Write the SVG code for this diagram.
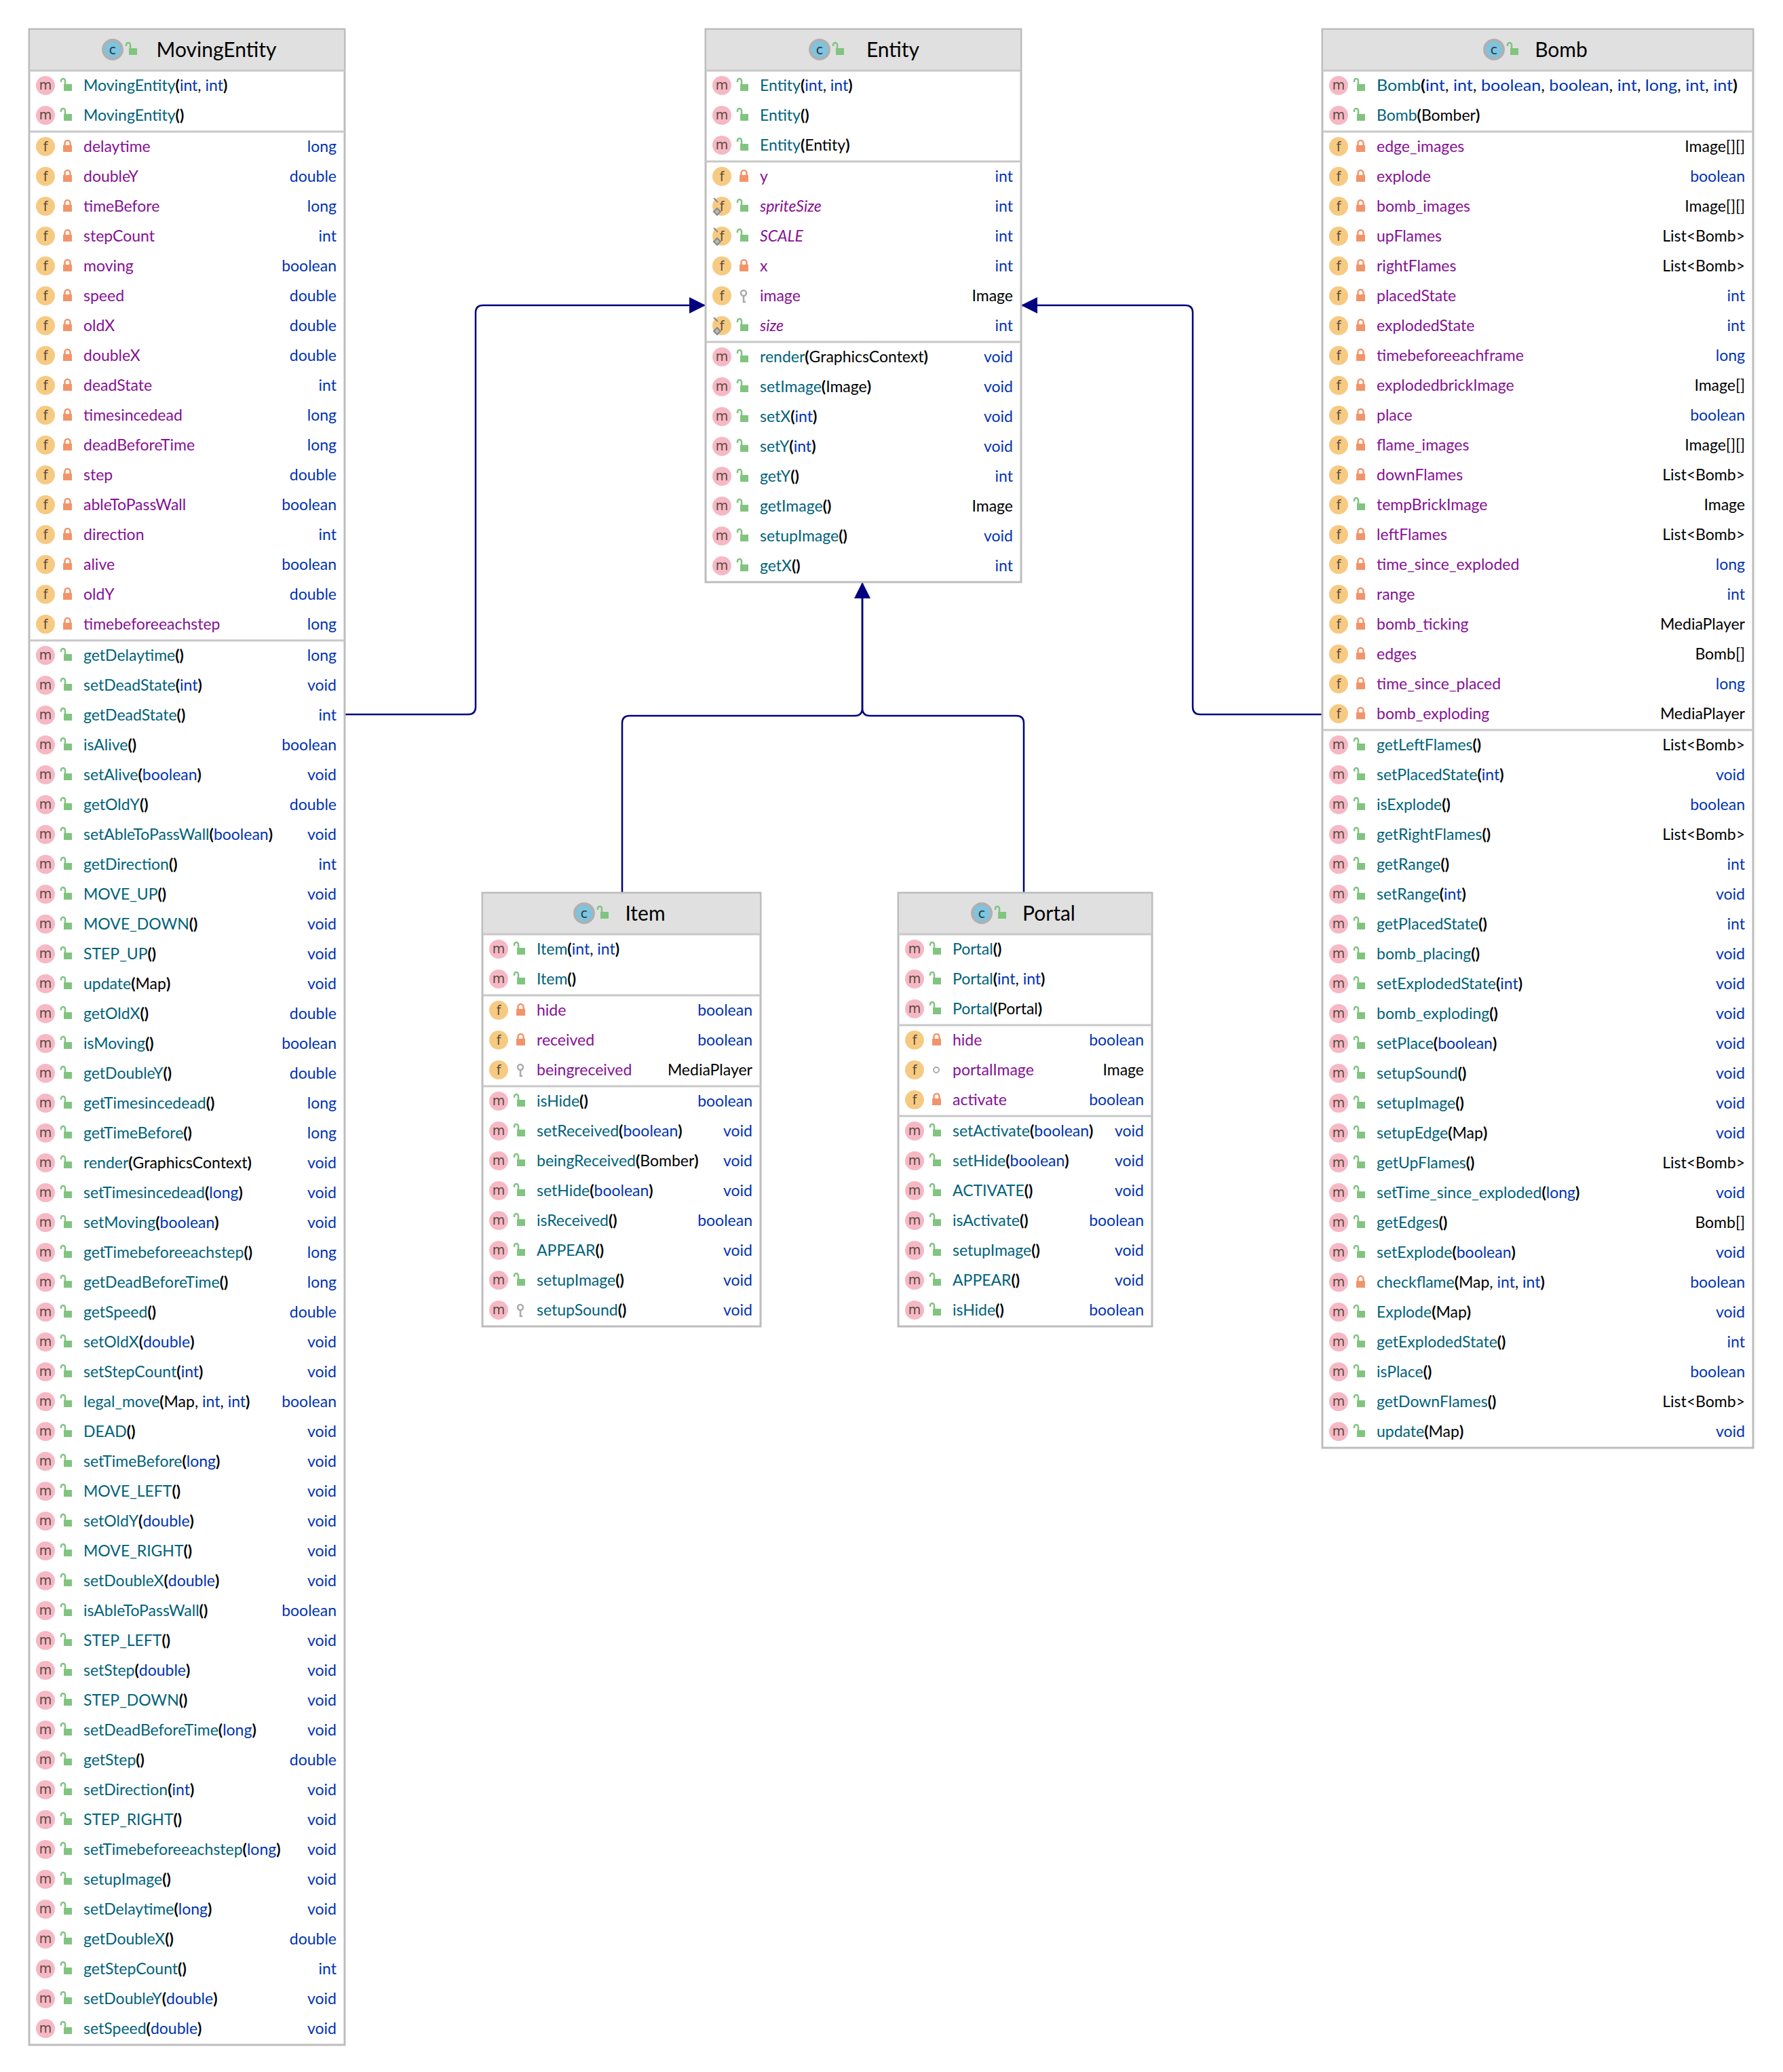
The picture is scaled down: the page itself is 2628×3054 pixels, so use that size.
<svg xmlns="http://www.w3.org/2000/svg" xmlns:xlink="http://www.w3.org/1999/xlink" width="2628" height="3054" viewBox="0 0 2628 3054">
<style>
.t{font-family:Lato,"Liberation Sans",sans-serif;font-size:23px;fill:#000}
.h{font-family:Lato,"Liberation Sans",sans-serif;font-size:30px;fill:#000;text-anchor:middle}
.ic{font-family:"DejaVu Sans",sans-serif;font-size:19px;fill:#5a4a40;text-anchor:middle}
.n{fill:#00627a}.f{fill:#871094}.k{fill:#0033b3}.p{font-weight:bold}.r{text-anchor:end}.i{font-style:italic}
.box{fill:#fff;stroke:#bdbdbd;stroke-width:3}
.hd{fill:#e0e0e0}
.sep{stroke:#c8c8c8;stroke-width:3}
.con{fill:none;stroke:#000080;stroke-width:2.5}
</style>
<defs>
<marker id="ar" markerUnits="userSpaceOnUse" markerWidth="28" markerHeight="28" refX="24" refY="12" orient="auto"><path d="M0,0 L24,12 L0,24 z" fill="#000080"/></marker>
<g id="cm"><circle r="14" fill="#f6b8c5"/><text y="6" class="ic">m</text></g>
<g id="cf"><circle r="14" fill="#f7ca82"/><text y="7" class="ic">f</text></g>
<g id="gp"><rect x="-5" y="-2" width="12" height="10" fill="#80c480"/><path d="M-3,-2 v-5 a3,3 0 0 0 -6,0 v2" fill="none" stroke="#80c480" stroke-width="2.5"/></g>
<g id="gr"><rect x="-6" y="-2" width="13" height="10" fill="#f2946a"/><path d="M-3.5,-2 v-3 a4,4 0 0 1 8,0 v3" fill="none" stroke="#f2946a" stroke-width="2.5"/></g>
<g id="gk"><circle cy="-4" r="4" fill="none" stroke="#aaa" stroke-width="2.5"/><path d="M0,0 v9 h3" fill="none" stroke="#aaa" stroke-width="2.5"/></g>
<g id="go"><circle r="4" fill="none" stroke="#aaa" stroke-width="2"/></g>
<g id="mp"><use href="#cm" x="24"/><use href="#gp" x="56"/></g>
<g id="mr"><use href="#cm" x="24"/><use href="#gr" x="56"/></g>
<g id="mk"><use href="#cm" x="24"/><use href="#gk" x="56"/></g>
<g id="fp"><use href="#cf" x="24"/><use href="#gp" x="56"/></g>
<g id="fr"><use href="#cf" x="24"/><use href="#gr" x="56"/></g>
<g id="fk"><use href="#cf" x="24"/><use href="#gk" x="56"/></g>
<g id="fo"><use href="#cf" x="24"/><use href="#go" x="56"/></g>
<g id="fs"><use href="#cf" x="24"/><path d="M12,-12 l6,6 M12,8 l5,-5 l5,5 l-5,5z" stroke="#888" stroke-width="2" fill="#bbb"/><use href="#gp" x="56"/></g>
<g id="cls"><circle r="16" fill="#b0b0b0"/><circle r="12" fill="#7cc4df"/><text y="7" class="ic" style="fill:#333">c</text></g>
</defs>
<rect width="2628" height="3054" fill="#fff"/>

<g id="connectors">
<path class="con" d="M508,1053 H690 Q701,1053 701,1042 V461 Q701,450 712,450 H1040" marker-end="url(#ar)"/>
<path class="con" d="M1949,1053 H1769 Q1758,1053 1758,1042 V461 Q1758,450 1747,450 H1505" marker-end="url(#ar)"/>
<path class="con" d="M917,1316 V1066 Q917,1055 928,1055 H1260 Q1271,1055 1271,1044 V858" marker-end="url(#ar)"/>
<path class="con" d="M1509,1316 V1066 Q1509,1055 1498,1055 H1282 Q1271,1055 1271,1044 V870"/>
</g>

<g id="MovingEntity" transform="translate(43,43)">
<rect class="box" width="465" height="2971"/>
<rect class="hd" x="1.5" y="1.5" width="462" height="59"/>
<line class="sep" x1="0" y1="61" x2="465" y2="61"/>
<use href="#cls" x="123" y="30"/><use href="#gp" x="152" y="30"/>
<text class="h" x="276" y="41">MovingEntity</text>
<line class="sep" x1="0" y1="151" x2="465" y2="151"/>
<line class="sep" x1="0" y1="901" x2="465" y2="901"/>
</g>
<g transform="translate(43,0)">
<g transform="translate(0,126)"><use href="#mp"/><text class="t" x="80" y="8"><tspan class="n">MovingEntity</tspan><tspan class="p">(</tspan><tspan class="k">int</tspan>, <tspan class="k">int</tspan><tspan class="p">)</tspan></text></g>
<g transform="translate(0,170)"><use href="#mp"/><text class="t" x="80" y="8"><tspan class="n">MovingEntity</tspan><tspan class="p">()</tspan></text></g>
<g transform="translate(0,216)"><use href="#fr"/><text class="t f" x="80" y="8">delaytime</text><text class="t r k" x="453" y="8">long</text></g>
<g transform="translate(0,260)"><use href="#fr"/><text class="t f" x="80" y="8">doubleY</text><text class="t r k" x="453" y="8">double</text></g>
<g transform="translate(0,304)"><use href="#fr"/><text class="t f" x="80" y="8">timeBefore</text><text class="t r k" x="453" y="8">long</text></g>
<g transform="translate(0,348)"><use href="#fr"/><text class="t f" x="80" y="8">stepCount</text><text class="t r k" x="453" y="8">int</text></g>
<g transform="translate(0,392)"><use href="#fr"/><text class="t f" x="80" y="8">moving</text><text class="t r k" x="453" y="8">boolean</text></g>
<g transform="translate(0,436)"><use href="#fr"/><text class="t f" x="80" y="8">speed</text><text class="t r k" x="453" y="8">double</text></g>
<g transform="translate(0,480)"><use href="#fr"/><text class="t f" x="80" y="8">oldX</text><text class="t r k" x="453" y="8">double</text></g>
<g transform="translate(0,524)"><use href="#fr"/><text class="t f" x="80" y="8">doubleX</text><text class="t r k" x="453" y="8">double</text></g>
<g transform="translate(0,568)"><use href="#fr"/><text class="t f" x="80" y="8">deadState</text><text class="t r k" x="453" y="8">int</text></g>
<g transform="translate(0,612)"><use href="#fr"/><text class="t f" x="80" y="8">timesincedead</text><text class="t r k" x="453" y="8">long</text></g>
<g transform="translate(0,656)"><use href="#fr"/><text class="t f" x="80" y="8">deadBeforeTime</text><text class="t r k" x="453" y="8">long</text></g>
<g transform="translate(0,700)"><use href="#fr"/><text class="t f" x="80" y="8">step</text><text class="t r k" x="453" y="8">double</text></g>
<g transform="translate(0,744)"><use href="#fr"/><text class="t f" x="80" y="8">ableToPassWall</text><text class="t r k" x="453" y="8">boolean</text></g>
<g transform="translate(0,788)"><use href="#fr"/><text class="t f" x="80" y="8">direction</text><text class="t r k" x="453" y="8">int</text></g>
<g transform="translate(0,832)"><use href="#fr"/><text class="t f" x="80" y="8">alive</text><text class="t r k" x="453" y="8">boolean</text></g>
<g transform="translate(0,876)"><use href="#fr"/><text class="t f" x="80" y="8">oldY</text><text class="t r k" x="453" y="8">double</text></g>
<g transform="translate(0,920)"><use href="#fr"/><text class="t f" x="80" y="8">timebeforeeachstep</text><text class="t r k" x="453" y="8">long</text></g>
<g transform="translate(0,966)"><use href="#mp"/><text class="t" x="80" y="8"><tspan class="n">getDelaytime</tspan><tspan class="p">()</tspan></text><text class="t r k" x="453" y="8">long</text></g>
<g transform="translate(0,1010)"><use href="#mp"/><text class="t" x="80" y="8"><tspan class="n">setDeadState</tspan><tspan class="p">(</tspan><tspan class="k">int</tspan><tspan class="p">)</tspan></text><text class="t r k" x="453" y="8">void</text></g>
<g transform="translate(0,1054)"><use href="#mp"/><text class="t" x="80" y="8"><tspan class="n">getDeadState</tspan><tspan class="p">()</tspan></text><text class="t r k" x="453" y="8">int</text></g>
<g transform="translate(0,1098)"><use href="#mp"/><text class="t" x="80" y="8"><tspan class="n">isAlive</tspan><tspan class="p">()</tspan></text><text class="t r k" x="453" y="8">boolean</text></g>
<g transform="translate(0,1142)"><use href="#mp"/><text class="t" x="80" y="8"><tspan class="n">setAlive</tspan><tspan class="p">(</tspan><tspan class="k">boolean</tspan><tspan class="p">)</tspan></text><text class="t r k" x="453" y="8">void</text></g>
<g transform="translate(0,1186)"><use href="#mp"/><text class="t" x="80" y="8"><tspan class="n">getOldY</tspan><tspan class="p">()</tspan></text><text class="t r k" x="453" y="8">double</text></g>
<g transform="translate(0,1230)"><use href="#mp"/><text class="t" x="80" y="8"><tspan class="n">setAbleToPassWall</tspan><tspan class="p">(</tspan><tspan class="k">boolean</tspan><tspan class="p">)</tspan></text><text class="t r k" x="453" y="8">void</text></g>
<g transform="translate(0,1274)"><use href="#mp"/><text class="t" x="80" y="8"><tspan class="n">getDirection</tspan><tspan class="p">()</tspan></text><text class="t r k" x="453" y="8">int</text></g>
<g transform="translate(0,1318)"><use href="#mp"/><text class="t" x="80" y="8"><tspan class="n">MOVE_UP</tspan><tspan class="p">()</tspan></text><text class="t r k" x="453" y="8">void</text></g>
<g transform="translate(0,1362)"><use href="#mp"/><text class="t" x="80" y="8"><tspan class="n">MOVE_DOWN</tspan><tspan class="p">()</tspan></text><text class="t r k" x="453" y="8">void</text></g>
<g transform="translate(0,1406)"><use href="#mp"/><text class="t" x="80" y="8"><tspan class="n">STEP_UP</tspan><tspan class="p">()</tspan></text><text class="t r k" x="453" y="8">void</text></g>
<g transform="translate(0,1450)"><use href="#mp"/><text class="t" x="80" y="8"><tspan class="n">update</tspan><tspan class="p">(</tspan>Map<tspan class="p">)</tspan></text><text class="t r k" x="453" y="8">void</text></g>
<g transform="translate(0,1494)"><use href="#mp"/><text class="t" x="80" y="8"><tspan class="n">getOldX</tspan><tspan class="p">()</tspan></text><text class="t r k" x="453" y="8">double</text></g>
<g transform="translate(0,1538)"><use href="#mp"/><text class="t" x="80" y="8"><tspan class="n">isMoving</tspan><tspan class="p">()</tspan></text><text class="t r k" x="453" y="8">boolean</text></g>
<g transform="translate(0,1582)"><use href="#mp"/><text class="t" x="80" y="8"><tspan class="n">getDoubleY</tspan><tspan class="p">()</tspan></text><text class="t r k" x="453" y="8">double</text></g>
<g transform="translate(0,1626)"><use href="#mp"/><text class="t" x="80" y="8"><tspan class="n">getTimesincedead</tspan><tspan class="p">()</tspan></text><text class="t r k" x="453" y="8">long</text></g>
<g transform="translate(0,1670)"><use href="#mp"/><text class="t" x="80" y="8"><tspan class="n">getTimeBefore</tspan><tspan class="p">()</tspan></text><text class="t r k" x="453" y="8">long</text></g>
<g transform="translate(0,1714)"><use href="#mp"/><text class="t" x="80" y="8"><tspan class="n">render</tspan><tspan class="p">(</tspan>GraphicsContext<tspan class="p">)</tspan></text><text class="t r k" x="453" y="8">void</text></g>
<g transform="translate(0,1758)"><use href="#mp"/><text class="t" x="80" y="8"><tspan class="n">setTimesincedead</tspan><tspan class="p">(</tspan><tspan class="k">long</tspan><tspan class="p">)</tspan></text><text class="t r k" x="453" y="8">void</text></g>
<g transform="translate(0,1802)"><use href="#mp"/><text class="t" x="80" y="8"><tspan class="n">setMoving</tspan><tspan class="p">(</tspan><tspan class="k">boolean</tspan><tspan class="p">)</tspan></text><text class="t r k" x="453" y="8">void</text></g>
<g transform="translate(0,1846)"><use href="#mp"/><text class="t" x="80" y="8"><tspan class="n">getTimebeforeeachstep</tspan><tspan class="p">()</tspan></text><text class="t r k" x="453" y="8">long</text></g>
<g transform="translate(0,1890)"><use href="#mp"/><text class="t" x="80" y="8"><tspan class="n">getDeadBeforeTime</tspan><tspan class="p">()</tspan></text><text class="t r k" x="453" y="8">long</text></g>
<g transform="translate(0,1934)"><use href="#mp"/><text class="t" x="80" y="8"><tspan class="n">getSpeed</tspan><tspan class="p">()</tspan></text><text class="t r k" x="453" y="8">double</text></g>
<g transform="translate(0,1978)"><use href="#mp"/><text class="t" x="80" y="8"><tspan class="n">setOldX</tspan><tspan class="p">(</tspan><tspan class="k">double</tspan><tspan class="p">)</tspan></text><text class="t r k" x="453" y="8">void</text></g>
<g transform="translate(0,2022)"><use href="#mp"/><text class="t" x="80" y="8"><tspan class="n">setStepCount</tspan><tspan class="p">(</tspan><tspan class="k">int</tspan><tspan class="p">)</tspan></text><text class="t r k" x="453" y="8">void</text></g>
<g transform="translate(0,2066)"><use href="#mp"/><text class="t" x="80" y="8"><tspan class="n">legal_move</tspan><tspan class="p">(</tspan>Map, <tspan class="k">int</tspan>, <tspan class="k">int</tspan><tspan class="p">)</tspan></text><text class="t r k" x="453" y="8">boolean</text></g>
<g transform="translate(0,2110)"><use href="#mp"/><text class="t" x="80" y="8"><tspan class="n">DEAD</tspan><tspan class="p">()</tspan></text><text class="t r k" x="453" y="8">void</text></g>
<g transform="translate(0,2154)"><use href="#mp"/><text class="t" x="80" y="8"><tspan class="n">setTimeBefore</tspan><tspan class="p">(</tspan><tspan class="k">long</tspan><tspan class="p">)</tspan></text><text class="t r k" x="453" y="8">void</text></g>
<g transform="translate(0,2198)"><use href="#mp"/><text class="t" x="80" y="8"><tspan class="n">MOVE_LEFT</tspan><tspan class="p">()</tspan></text><text class="t r k" x="453" y="8">void</text></g>
<g transform="translate(0,2242)"><use href="#mp"/><text class="t" x="80" y="8"><tspan class="n">setOldY</tspan><tspan class="p">(</tspan><tspan class="k">double</tspan><tspan class="p">)</tspan></text><text class="t r k" x="453" y="8">void</text></g>
<g transform="translate(0,2286)"><use href="#mp"/><text class="t" x="80" y="8"><tspan class="n">MOVE_RIGHT</tspan><tspan class="p">()</tspan></text><text class="t r k" x="453" y="8">void</text></g>
<g transform="translate(0,2330)"><use href="#mp"/><text class="t" x="80" y="8"><tspan class="n">setDoubleX</tspan><tspan class="p">(</tspan><tspan class="k">double</tspan><tspan class="p">)</tspan></text><text class="t r k" x="453" y="8">void</text></g>
<g transform="translate(0,2374)"><use href="#mp"/><text class="t" x="80" y="8"><tspan class="n">isAbleToPassWall</tspan><tspan class="p">()</tspan></text><text class="t r k" x="453" y="8">boolean</text></g>
<g transform="translate(0,2418)"><use href="#mp"/><text class="t" x="80" y="8"><tspan class="n">STEP_LEFT</tspan><tspan class="p">()</tspan></text><text class="t r k" x="453" y="8">void</text></g>
<g transform="translate(0,2462)"><use href="#mp"/><text class="t" x="80" y="8"><tspan class="n">setStep</tspan><tspan class="p">(</tspan><tspan class="k">double</tspan><tspan class="p">)</tspan></text><text class="t r k" x="453" y="8">void</text></g>
<g transform="translate(0,2506)"><use href="#mp"/><text class="t" x="80" y="8"><tspan class="n">STEP_DOWN</tspan><tspan class="p">()</tspan></text><text class="t r k" x="453" y="8">void</text></g>
<g transform="translate(0,2550)"><use href="#mp"/><text class="t" x="80" y="8"><tspan class="n">setDeadBeforeTime</tspan><tspan class="p">(</tspan><tspan class="k">long</tspan><tspan class="p">)</tspan></text><text class="t r k" x="453" y="8">void</text></g>
<g transform="translate(0,2594)"><use href="#mp"/><text class="t" x="80" y="8"><tspan class="n">getStep</tspan><tspan class="p">()</tspan></text><text class="t r k" x="453" y="8">double</text></g>
<g transform="translate(0,2638)"><use href="#mp"/><text class="t" x="80" y="8"><tspan class="n">setDirection</tspan><tspan class="p">(</tspan><tspan class="k">int</tspan><tspan class="p">)</tspan></text><text class="t r k" x="453" y="8">void</text></g>
<g transform="translate(0,2682)"><use href="#mp"/><text class="t" x="80" y="8"><tspan class="n">STEP_RIGHT</tspan><tspan class="p">()</tspan></text><text class="t r k" x="453" y="8">void</text></g>
<g transform="translate(0,2726)"><use href="#mp"/><text class="t" x="80" y="8"><tspan class="n">setTimebeforeeachstep</tspan><tspan class="p">(</tspan><tspan class="k">long</tspan><tspan class="p">)</tspan></text><text class="t r k" x="453" y="8">void</text></g>
<g transform="translate(0,2770)"><use href="#mp"/><text class="t" x="80" y="8"><tspan class="n">setupImage</tspan><tspan class="p">()</tspan></text><text class="t r k" x="453" y="8">void</text></g>
<g transform="translate(0,2814)"><use href="#mp"/><text class="t" x="80" y="8"><tspan class="n">setDelaytime</tspan><tspan class="p">(</tspan><tspan class="k">long</tspan><tspan class="p">)</tspan></text><text class="t r k" x="453" y="8">void</text></g>
<g transform="translate(0,2858)"><use href="#mp"/><text class="t" x="80" y="8"><tspan class="n">getDoubleX</tspan><tspan class="p">()</tspan></text><text class="t r k" x="453" y="8">double</text></g>
<g transform="translate(0,2902)"><use href="#mp"/><text class="t" x="80" y="8"><tspan class="n">getStepCount</tspan><tspan class="p">()</tspan></text><text class="t r k" x="453" y="8">int</text></g>
<g transform="translate(0,2946)"><use href="#mp"/><text class="t" x="80" y="8"><tspan class="n">setDoubleY</tspan><tspan class="p">(</tspan><tspan class="k">double</tspan><tspan class="p">)</tspan></text><text class="t r k" x="453" y="8">void</text></g>
<g transform="translate(0,2990)"><use href="#mp"/><text class="t" x="80" y="8"><tspan class="n">setSpeed</tspan><tspan class="p">(</tspan><tspan class="k">double</tspan><tspan class="p">)</tspan></text><text class="t r k" x="453" y="8">void</text></g>
</g>

<g id="Entity" transform="translate(1040,43)">
<rect class="box" width="465" height="815"/>
<rect class="hd" x="1.5" y="1.5" width="462" height="59"/>
<line class="sep" x1="0" y1="61" x2="465" y2="61"/>
<use href="#cls" x="168" y="30"/><use href="#gp" x="197" y="30"/>
<text class="h" x="276" y="41">Entity</text>
<line class="sep" x1="0" y1="195" x2="465" y2="195"/>
<line class="sep" x1="0" y1="461" x2="465" y2="461"/>
</g>
<g transform="translate(1040,0)">
<g transform="translate(0,126)"><use href="#mp"/><text class="t" x="80" y="8"><tspan class="n">Entity</tspan><tspan class="p">(</tspan><tspan class="k">int</tspan>, <tspan class="k">int</tspan><tspan class="p">)</tspan></text></g>
<g transform="translate(0,170)"><use href="#mp"/><text class="t" x="80" y="8"><tspan class="n">Entity</tspan><tspan class="p">()</tspan></text></g>
<g transform="translate(0,214)"><use href="#mp"/><text class="t" x="80" y="8"><tspan class="n">Entity</tspan><tspan class="p">(</tspan>Entity<tspan class="p">)</tspan></text></g>
<g transform="translate(0,260)"><use href="#fr"/><text class="t f" x="80" y="8">y</text><text class="t r k" x="453" y="8">int</text></g>
<g transform="translate(0,304)"><use href="#fs"/><text class="t f i" x="80" y="8">spriteSize</text><text class="t r k" x="453" y="8">int</text></g>
<g transform="translate(0,348)"><use href="#fs"/><text class="t f i" x="80" y="8">SCALE</text><text class="t r k" x="453" y="8">int</text></g>
<g transform="translate(0,392)"><use href="#fr"/><text class="t f" x="80" y="8">x</text><text class="t r k" x="453" y="8">int</text></g>
<g transform="translate(0,436)"><use href="#fk"/><text class="t f" x="80" y="8">image</text><text class="t r" x="453" y="8">Image</text></g>
<g transform="translate(0,480)"><use href="#fs"/><text class="t f i" x="80" y="8">size</text><text class="t r k" x="453" y="8">int</text></g>
<g transform="translate(0,526)"><use href="#mp"/><text class="t" x="80" y="8"><tspan class="n">render</tspan><tspan class="p">(</tspan>GraphicsContext<tspan class="p">)</tspan></text><text class="t r k" x="453" y="8">void</text></g>
<g transform="translate(0,570)"><use href="#mp"/><text class="t" x="80" y="8"><tspan class="n">setImage</tspan><tspan class="p">(</tspan>Image<tspan class="p">)</tspan></text><text class="t r k" x="453" y="8">void</text></g>
<g transform="translate(0,614)"><use href="#mp"/><text class="t" x="80" y="8"><tspan class="n">setX</tspan><tspan class="p">(</tspan><tspan class="k">int</tspan><tspan class="p">)</tspan></text><text class="t r k" x="453" y="8">void</text></g>
<g transform="translate(0,658)"><use href="#mp"/><text class="t" x="80" y="8"><tspan class="n">setY</tspan><tspan class="p">(</tspan><tspan class="k">int</tspan><tspan class="p">)</tspan></text><text class="t r k" x="453" y="8">void</text></g>
<g transform="translate(0,702)"><use href="#mp"/><text class="t" x="80" y="8"><tspan class="n">getY</tspan><tspan class="p">()</tspan></text><text class="t r k" x="453" y="8">int</text></g>
<g transform="translate(0,746)"><use href="#mp"/><text class="t" x="80" y="8"><tspan class="n">getImage</tspan><tspan class="p">()</tspan></text><text class="t r" x="453" y="8">Image</text></g>
<g transform="translate(0,790)"><use href="#mp"/><text class="t" x="80" y="8"><tspan class="n">setupImage</tspan><tspan class="p">()</tspan></text><text class="t r k" x="453" y="8">void</text></g>
<g transform="translate(0,834)"><use href="#mp"/><text class="t" x="80" y="8"><tspan class="n">getX</tspan><tspan class="p">()</tspan></text><text class="t r k" x="453" y="8">int</text></g>
</g>

<g id="Bomb" transform="translate(1949,43)">
<rect class="box" width="635" height="2091"/>
<rect class="hd" x="1.5" y="1.5" width="632" height="59"/>
<line class="sep" x1="0" y1="61" x2="635" y2="61"/>
<use href="#cls" x="253" y="30"/><use href="#gp" x="282" y="30"/>
<text class="h" x="352" y="41">Bomb</text>
<line class="sep" x1="0" y1="151" x2="635" y2="151"/>
<line class="sep" x1="0" y1="1033" x2="635" y2="1033"/>
</g>
<g transform="translate(1949,0)">
<g transform="translate(0,126)"><use href="#mp"/><text class="t" x="80" y="8" textLength="532" lengthAdjust="spacingAndGlyphs"><tspan class="n">Bomb</tspan><tspan class="p">(</tspan><tspan class="k">int</tspan>, <tspan class="k">int</tspan>, <tspan class="k">boolean</tspan>, <tspan class="k">boolean</tspan>, <tspan class="k">int</tspan>, <tspan class="k">long</tspan>, <tspan class="k">int</tspan>, <tspan class="k">int</tspan><tspan class="p">)</tspan></text></g>
<g transform="translate(0,170)"><use href="#mp"/><text class="t" x="80" y="8"><tspan class="n">Bomb</tspan><tspan class="p">(</tspan>Bomber<tspan class="p">)</tspan></text></g>
<g transform="translate(0,216)"><use href="#fr"/><text class="t f" x="80" y="8">edge_images</text><text class="t r" x="623" y="8">Image[][]</text></g>
<g transform="translate(0,260)"><use href="#fr"/><text class="t f" x="80" y="8">explode</text><text class="t r k" x="623" y="8">boolean</text></g>
<g transform="translate(0,304)"><use href="#fr"/><text class="t f" x="80" y="8">bomb_images</text><text class="t r" x="623" y="8">Image[][]</text></g>
<g transform="translate(0,348)"><use href="#fr"/><text class="t f" x="80" y="8">upFlames</text><text class="t r" x="623" y="8">List&lt;Bomb&gt;</text></g>
<g transform="translate(0,392)"><use href="#fr"/><text class="t f" x="80" y="8">rightFlames</text><text class="t r" x="623" y="8">List&lt;Bomb&gt;</text></g>
<g transform="translate(0,436)"><use href="#fr"/><text class="t f" x="80" y="8">placedState</text><text class="t r k" x="623" y="8">int</text></g>
<g transform="translate(0,480)"><use href="#fr"/><text class="t f" x="80" y="8">explodedState</text><text class="t r k" x="623" y="8">int</text></g>
<g transform="translate(0,524)"><use href="#fr"/><text class="t f" x="80" y="8">timebeforeeachframe</text><text class="t r k" x="623" y="8">long</text></g>
<g transform="translate(0,568)"><use href="#fr"/><text class="t f" x="80" y="8">explodedbrickImage</text><text class="t r" x="623" y="8">Image[]</text></g>
<g transform="translate(0,612)"><use href="#fr"/><text class="t f" x="80" y="8">place</text><text class="t r k" x="623" y="8">boolean</text></g>
<g transform="translate(0,656)"><use href="#fr"/><text class="t f" x="80" y="8">flame_images</text><text class="t r" x="623" y="8">Image[][]</text></g>
<g transform="translate(0,700)"><use href="#fr"/><text class="t f" x="80" y="8">downFlames</text><text class="t r" x="623" y="8">List&lt;Bomb&gt;</text></g>
<g transform="translate(0,744)"><use href="#fp"/><text class="t f" x="80" y="8">tempBrickImage</text><text class="t r" x="623" y="8">Image</text></g>
<g transform="translate(0,788)"><use href="#fr"/><text class="t f" x="80" y="8">leftFlames</text><text class="t r" x="623" y="8">List&lt;Bomb&gt;</text></g>
<g transform="translate(0,832)"><use href="#fr"/><text class="t f" x="80" y="8">time_since_exploded</text><text class="t r k" x="623" y="8">long</text></g>
<g transform="translate(0,876)"><use href="#fr"/><text class="t f" x="80" y="8">range</text><text class="t r k" x="623" y="8">int</text></g>
<g transform="translate(0,920)"><use href="#fr"/><text class="t f" x="80" y="8">bomb_ticking</text><text class="t r" x="623" y="8">MediaPlayer</text></g>
<g transform="translate(0,964)"><use href="#fr"/><text class="t f" x="80" y="8">edges</text><text class="t r" x="623" y="8">Bomb[]</text></g>
<g transform="translate(0,1008)"><use href="#fr"/><text class="t f" x="80" y="8">time_since_placed</text><text class="t r k" x="623" y="8">long</text></g>
<g transform="translate(0,1052)"><use href="#fr"/><text class="t f" x="80" y="8">bomb_exploding</text><text class="t r" x="623" y="8">MediaPlayer</text></g>
<g transform="translate(0,1098)"><use href="#mp"/><text class="t" x="80" y="8"><tspan class="n">getLeftFlames</tspan><tspan class="p">()</tspan></text><text class="t r" x="623" y="8">List&lt;Bomb&gt;</text></g>
<g transform="translate(0,1142)"><use href="#mp"/><text class="t" x="80" y="8"><tspan class="n">setPlacedState</tspan><tspan class="p">(</tspan><tspan class="k">int</tspan><tspan class="p">)</tspan></text><text class="t r k" x="623" y="8">void</text></g>
<g transform="translate(0,1186)"><use href="#mp"/><text class="t" x="80" y="8"><tspan class="n">isExplode</tspan><tspan class="p">()</tspan></text><text class="t r k" x="623" y="8">boolean</text></g>
<g transform="translate(0,1230)"><use href="#mp"/><text class="t" x="80" y="8"><tspan class="n">getRightFlames</tspan><tspan class="p">()</tspan></text><text class="t r" x="623" y="8">List&lt;Bomb&gt;</text></g>
<g transform="translate(0,1274)"><use href="#mp"/><text class="t" x="80" y="8"><tspan class="n">getRange</tspan><tspan class="p">()</tspan></text><text class="t r k" x="623" y="8">int</text></g>
<g transform="translate(0,1318)"><use href="#mp"/><text class="t" x="80" y="8"><tspan class="n">setRange</tspan><tspan class="p">(</tspan><tspan class="k">int</tspan><tspan class="p">)</tspan></text><text class="t r k" x="623" y="8">void</text></g>
<g transform="translate(0,1362)"><use href="#mp"/><text class="t" x="80" y="8"><tspan class="n">getPlacedState</tspan><tspan class="p">()</tspan></text><text class="t r k" x="623" y="8">int</text></g>
<g transform="translate(0,1406)"><use href="#mp"/><text class="t" x="80" y="8"><tspan class="n">bomb_placing</tspan><tspan class="p">()</tspan></text><text class="t r k" x="623" y="8">void</text></g>
<g transform="translate(0,1450)"><use href="#mp"/><text class="t" x="80" y="8"><tspan class="n">setExplodedState</tspan><tspan class="p">(</tspan><tspan class="k">int</tspan><tspan class="p">)</tspan></text><text class="t r k" x="623" y="8">void</text></g>
<g transform="translate(0,1494)"><use href="#mp"/><text class="t" x="80" y="8"><tspan class="n">bomb_exploding</tspan><tspan class="p">()</tspan></text><text class="t r k" x="623" y="8">void</text></g>
<g transform="translate(0,1538)"><use href="#mp"/><text class="t" x="80" y="8"><tspan class="n">setPlace</tspan><tspan class="p">(</tspan><tspan class="k">boolean</tspan><tspan class="p">)</tspan></text><text class="t r k" x="623" y="8">void</text></g>
<g transform="translate(0,1582)"><use href="#mp"/><text class="t" x="80" y="8"><tspan class="n">setupSound</tspan><tspan class="p">()</tspan></text><text class="t r k" x="623" y="8">void</text></g>
<g transform="translate(0,1626)"><use href="#mp"/><text class="t" x="80" y="8"><tspan class="n">setupImage</tspan><tspan class="p">()</tspan></text><text class="t r k" x="623" y="8">void</text></g>
<g transform="translate(0,1670)"><use href="#mp"/><text class="t" x="80" y="8"><tspan class="n">setupEdge</tspan><tspan class="p">(</tspan>Map<tspan class="p">)</tspan></text><text class="t r k" x="623" y="8">void</text></g>
<g transform="translate(0,1714)"><use href="#mp"/><text class="t" x="80" y="8"><tspan class="n">getUpFlames</tspan><tspan class="p">()</tspan></text><text class="t r" x="623" y="8">List&lt;Bomb&gt;</text></g>
<g transform="translate(0,1758)"><use href="#mp"/><text class="t" x="80" y="8"><tspan class="n">setTime_since_exploded</tspan><tspan class="p">(</tspan><tspan class="k">long</tspan><tspan class="p">)</tspan></text><text class="t r k" x="623" y="8">void</text></g>
<g transform="translate(0,1802)"><use href="#mp"/><text class="t" x="80" y="8"><tspan class="n">getEdges</tspan><tspan class="p">()</tspan></text><text class="t r" x="623" y="8">Bomb[]</text></g>
<g transform="translate(0,1846)"><use href="#mp"/><text class="t" x="80" y="8"><tspan class="n">setExplode</tspan><tspan class="p">(</tspan><tspan class="k">boolean</tspan><tspan class="p">)</tspan></text><text class="t r k" x="623" y="8">void</text></g>
<g transform="translate(0,1890)"><use href="#mr"/><text class="t" x="80" y="8"><tspan class="n">checkflame</tspan><tspan class="p">(</tspan>Map, <tspan class="k">int</tspan>, <tspan class="k">int</tspan><tspan class="p">)</tspan></text><text class="t r k" x="623" y="8">boolean</text></g>
<g transform="translate(0,1934)"><use href="#mp"/><text class="t" x="80" y="8"><tspan class="n">Explode</tspan><tspan class="p">(</tspan>Map<tspan class="p">)</tspan></text><text class="t r k" x="623" y="8">void</text></g>
<g transform="translate(0,1978)"><use href="#mp"/><text class="t" x="80" y="8"><tspan class="n">getExplodedState</tspan><tspan class="p">()</tspan></text><text class="t r k" x="623" y="8">int</text></g>
<g transform="translate(0,2022)"><use href="#mp"/><text class="t" x="80" y="8"><tspan class="n">isPlace</tspan><tspan class="p">()</tspan></text><text class="t r k" x="623" y="8">boolean</text></g>
<g transform="translate(0,2066)"><use href="#mp"/><text class="t" x="80" y="8"><tspan class="n">getDownFlames</tspan><tspan class="p">()</tspan></text><text class="t r" x="623" y="8">List&lt;Bomb&gt;</text></g>
<g transform="translate(0,2110)"><use href="#mp"/><text class="t" x="80" y="8"><tspan class="n">update</tspan><tspan class="p">(</tspan>Map<tspan class="p">)</tspan></text><text class="t r k" x="623" y="8">void</text></g>
</g>

<g id="Item" transform="translate(711,1316)">
<rect class="box" width="410" height="639"/>
<rect class="hd" x="1.5" y="1.5" width="407" height="59"/>
<line class="sep" x1="0" y1="61" x2="410" y2="61"/>
<use href="#cls" x="150" y="30"/><use href="#gp" x="179" y="30"/>
<text class="h" x="240" y="41">Item</text>
<line class="sep" x1="0" y1="151" x2="410" y2="151"/>
<line class="sep" x1="0" y1="285" x2="410" y2="285"/>
</g>
<g transform="translate(711,0)">
<g transform="translate(0,1399)"><use href="#mp"/><text class="t" x="80" y="8"><tspan class="n">Item</tspan><tspan class="p">(</tspan><tspan class="k">int</tspan>, <tspan class="k">int</tspan><tspan class="p">)</tspan></text></g>
<g transform="translate(0,1443)"><use href="#mp"/><text class="t" x="80" y="8"><tspan class="n">Item</tspan><tspan class="p">()</tspan></text></g>
<g transform="translate(0,1489)"><use href="#fr"/><text class="t f" x="80" y="8">hide</text><text class="t r k" x="398" y="8">boolean</text></g>
<g transform="translate(0,1533)"><use href="#fr"/><text class="t f" x="80" y="8">received</text><text class="t r k" x="398" y="8">boolean</text></g>
<g transform="translate(0,1577)"><use href="#fk"/><text class="t f" x="80" y="8">beingreceived</text><text class="t r" x="398" y="8">MediaPlayer</text></g>
<g transform="translate(0,1623)"><use href="#mp"/><text class="t" x="80" y="8"><tspan class="n">isHide</tspan><tspan class="p">()</tspan></text><text class="t r k" x="398" y="8">boolean</text></g>
<g transform="translate(0,1667)"><use href="#mp"/><text class="t" x="80" y="8"><tspan class="n">setReceived</tspan><tspan class="p">(</tspan><tspan class="k">boolean</tspan><tspan class="p">)</tspan></text><text class="t r k" x="398" y="8">void</text></g>
<g transform="translate(0,1711)"><use href="#mp"/><text class="t" x="80" y="8"><tspan class="n">beingReceived</tspan><tspan class="p">(</tspan>Bomber<tspan class="p">)</tspan></text><text class="t r k" x="398" y="8">void</text></g>
<g transform="translate(0,1755)"><use href="#mp"/><text class="t" x="80" y="8"><tspan class="n">setHide</tspan><tspan class="p">(</tspan><tspan class="k">boolean</tspan><tspan class="p">)</tspan></text><text class="t r k" x="398" y="8">void</text></g>
<g transform="translate(0,1799)"><use href="#mp"/><text class="t" x="80" y="8"><tspan class="n">isReceived</tspan><tspan class="p">()</tspan></text><text class="t r k" x="398" y="8">boolean</text></g>
<g transform="translate(0,1843)"><use href="#mp"/><text class="t" x="80" y="8"><tspan class="n">APPEAR</tspan><tspan class="p">()</tspan></text><text class="t r k" x="398" y="8">void</text></g>
<g transform="translate(0,1887)"><use href="#mp"/><text class="t" x="80" y="8"><tspan class="n">setupImage</tspan><tspan class="p">()</tspan></text><text class="t r k" x="398" y="8">void</text></g>
<g transform="translate(0,1931)"><use href="#mk"/><text class="t" x="80" y="8"><tspan class="n">setupSound</tspan><tspan class="p">()</tspan></text><text class="t r k" x="398" y="8">void</text></g>
</g>

<g id="Portal" transform="translate(1324,1316)">
<rect class="box" width="374" height="639"/>
<rect class="hd" x="1.5" y="1.5" width="371" height="59"/>
<line class="sep" x1="0" y1="61" x2="374" y2="61"/>
<use href="#cls" x="123" y="30"/><use href="#gp" x="152" y="30"/>
<text class="h" x="222" y="41">Portal</text>
<line class="sep" x1="0" y1="195" x2="374" y2="195"/>
<line class="sep" x1="0" y1="329" x2="374" y2="329"/>
</g>
<g transform="translate(1324,0)">
<g transform="translate(0,1399)"><use href="#mp"/><text class="t" x="80" y="8"><tspan class="n">Portal</tspan><tspan class="p">()</tspan></text></g>
<g transform="translate(0,1443)"><use href="#mp"/><text class="t" x="80" y="8"><tspan class="n">Portal</tspan><tspan class="p">(</tspan><tspan class="k">int</tspan>, <tspan class="k">int</tspan><tspan class="p">)</tspan></text></g>
<g transform="translate(0,1487)"><use href="#mp"/><text class="t" x="80" y="8"><tspan class="n">Portal</tspan><tspan class="p">(</tspan>Portal<tspan class="p">)</tspan></text></g>
<g transform="translate(0,1533)"><use href="#fr"/><text class="t f" x="80" y="8">hide</text><text class="t r k" x="362" y="8">boolean</text></g>
<g transform="translate(0,1577)"><use href="#fo"/><text class="t f" x="80" y="8">portalImage</text><text class="t r" x="362" y="8">Image</text></g>
<g transform="translate(0,1621)"><use href="#fr"/><text class="t f" x="80" y="8">activate</text><text class="t r k" x="362" y="8">boolean</text></g>
<g transform="translate(0,1667)"><use href="#mp"/><text class="t" x="80" y="8"><tspan class="n">setActivate</tspan><tspan class="p">(</tspan><tspan class="k">boolean</tspan><tspan class="p">)</tspan></text><text class="t r k" x="362" y="8">void</text></g>
<g transform="translate(0,1711)"><use href="#mp"/><text class="t" x="80" y="8"><tspan class="n">setHide</tspan><tspan class="p">(</tspan><tspan class="k">boolean</tspan><tspan class="p">)</tspan></text><text class="t r k" x="362" y="8">void</text></g>
<g transform="translate(0,1755)"><use href="#mp"/><text class="t" x="80" y="8"><tspan class="n">ACTIVATE</tspan><tspan class="p">()</tspan></text><text class="t r k" x="362" y="8">void</text></g>
<g transform="translate(0,1799)"><use href="#mp"/><text class="t" x="80" y="8"><tspan class="n">isActivate</tspan><tspan class="p">()</tspan></text><text class="t r k" x="362" y="8">boolean</text></g>
<g transform="translate(0,1843)"><use href="#mp"/><text class="t" x="80" y="8"><tspan class="n">setupImage</tspan><tspan class="p">()</tspan></text><text class="t r k" x="362" y="8">void</text></g>
<g transform="translate(0,1887)"><use href="#mp"/><text class="t" x="80" y="8"><tspan class="n">APPEAR</tspan><tspan class="p">()</tspan></text><text class="t r k" x="362" y="8">void</text></g>
<g transform="translate(0,1931)"><use href="#mp"/><text class="t" x="80" y="8"><tspan class="n">isHide</tspan><tspan class="p">()</tspan></text><text class="t r k" x="362" y="8">boolean</text></g>
</g>
</svg>
